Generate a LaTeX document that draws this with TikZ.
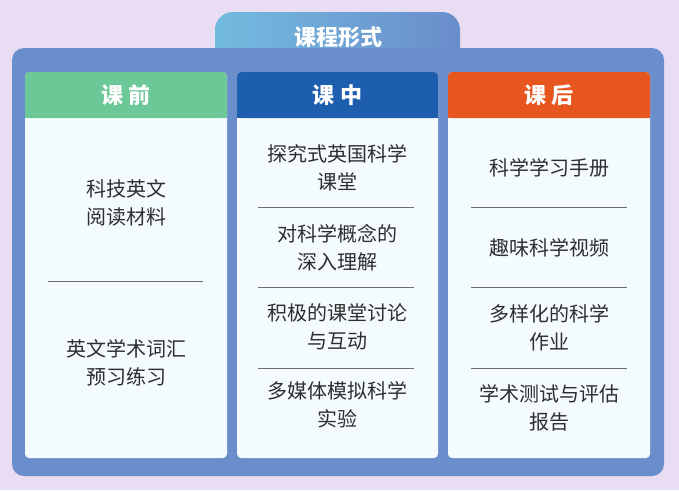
\documentclass[tikz,border=0pt]{standalone}
\usepackage{fontspec}
\newfontfamily\cjk{Noto Sans CJK SC}
\usetikzlibrary{positioning}
\definecolor{bgLav}{HTML}{E8DDF3}
\definecolor{panelBlue}{HTML}{6A8DCB}
\definecolor{hdGreen}{HTML}{6DC897}
\definecolor{hdBlue}{HTML}{1E5EAE}
\definecolor{hdOrange}{HTML}{E8561F}
\definecolor{cardWhite}{HTML}{F4FBFE}
\definecolor{txtDark}{HTML}{2E2E2E}
\tikzset{
  head/.style={font=\cjk\fontsize{22}{24}\selectfont\bfseries, text=white},
  item/.style={font=\cjk\fontsize{20}{28}\selectfont, text=txtDark, align=center},
  sep/.style={draw=txtDark!70, line width=0.8pt},
}
\begin{document}
\begin{tikzpicture}[x=1pt,y=-1pt]
  \fill[bgLav] (0,0) rectangle (679,490);
  \useasboundingbox (0,0) rectangle (679,490);
  % outer panel and tab
  \fill[panelBlue, rounded corners=12pt] (12,48) rectangle (664,476);
  \shade[left color=cyan!25!panelBlue!80!white, right color=panelBlue, rounded corners=18pt] (215,12) rectangle (460,66);
  \fill[panelBlue] (215,48) rectangle (460,70);
  \node[head] (title) at (338,37) {课程形式};
  % columns
  \foreach \xa/\xb/\col/\lbl [count=\i] in {25/227/hdGreen/课\ 前, 237/438/hdBlue/课\ 中, 448/650/hdOrange/课\ 后}{
    \fill[cardWhite, rounded corners=4pt] (\xa,72) rectangle (\xb,458);
    \fill[\col, rounded corners=4pt] (\xa,72) rectangle (\xb,118);
    \fill[\col] (\xa,100) rectangle (\xb,118);
    \node[head] (h\i) at ({(\xa+\xb)/2},95) {\lbl};
  }
  % before class
  \node[item] (b1) at (126,203) {科技英文\\阅读材料};
  \node[item] (b2) at (126,363) {英文学术词汇\\预习练习};
  \draw[sep] (48,281) -- (203,281);
  % in class
  \node[item] (m1) at (337,168) {探究式英国科学\\课堂};
  \node[item] (m2) at (337,248) {对科学概念的\\深入理解};
  \node[item] (m3) at (337,327) {积极的课堂讨论\\与互动};
  \node[item] (m4) at (337,405) {多媒体模拟科学\\实验};
  \foreach \y in {207,287,368} \draw[sep] (258,\y) -- (414,\y);
  % after class
  \node[item] (a1) at (549,168) {科学学习手册};
  \node[item] (a2) at (549,248) {趣味科学视频};
  \node[item] (a3) at (549,328) {多样化的科学\\作业};
  \node[item] (a4) at (549,408) {学术测试与评估\\报告};
  \foreach \y in {207,287,368} \draw[sep] (471,\y) -- (627,\y);
\end{tikzpicture}
\end{document}
